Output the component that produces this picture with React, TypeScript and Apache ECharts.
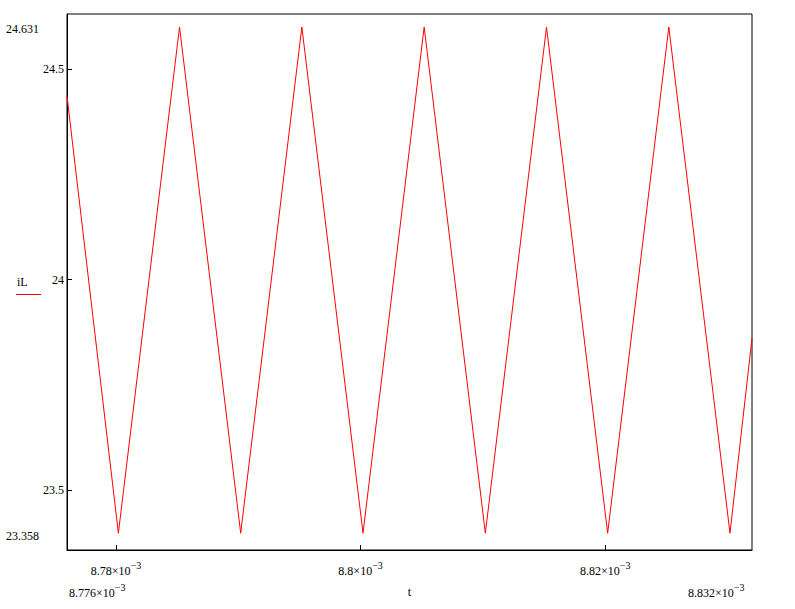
import React, { useEffect, useRef } from "react";
import * as echarts from "echarts";

const tValues = [
  8.776e-3, 8.7802e-3, 8.7852e-3, 8.7902e-3, 8.7952e-3, 8.8002e-3, 8.8052e-3,
  8.8102e-3, 8.8152e-3, 8.8202e-3, 8.8252e-3, 8.8302e-3, 8.832e-3,
];
const iLValues = [
  24.436, 23.398, 24.6, 23.398, 24.6, 23.398, 24.6, 23.398, 24.6, 23.398,
  24.6, 23.398, 23.861,
];
const xMin = 8.776e-3;
const xMax = 8.832e-3;
const yMin = 23.358;
const yMax = 24.631;
const xTicks = [8.78e-3, 8.8e-3, 8.82e-3];
const yTicks = [23.5, 24, 24.5];
const xTickLabels = ["8.78", "8.8", "8.82"];
const xMinLabel = "8.776";
const xMaxLabel = "8.832";
const yMinLabel = "23.358";
const yMaxLabel = "24.631";
const seriesName = "iL";
const xName = "t";

const FONT = "'Liberation Serif', 'Times New Roman', serif";

const richSci = {
  b: { fontFamily: FONT, fontSize: 12, color: "#000" },
  s: { fontFamily: FONT, fontSize: 10, color: "#000", padding: [0, 0, 12, 0] },
};

export default function App() {
  const ref = useRef<HTMLDivElement>(null);
  useEffect(() => {
    if (!ref.current) return;
    const chart = echarts.init(ref.current, null, { renderer: "svg" });
    const data = tValues.map((t, i) => [t, iLValues[i]]);
    chart.setOption({
      animation: false,
      backgroundColor: "#fff",
      grid: {
        left: 67,
        top: 14,
        width: 685,
        height: 536,
        show: true,
        borderColor: "#000",
        borderWidth: 1,
        backgroundColor: "transparent",
      },
      xAxis: {
        type: "value",
        min: xMin,
        max: xMax,
        name: xName,
        nameLocation: "middle",
        nameGap: 36,
        nameTextStyle: { fontFamily: FONT, fontSize: 12, color: "#000" },
        axisLine: { show: true, lineStyle: { color: "#000", width: 1 } },
        splitLine: { show: false },
        axisTick: {
          show: true,
          inside: true,
          length: 5,
          customValues: xTicks,
          lineStyle: { color: "#000" },
        },
        axisLabel: {
          customValues: xTicks,
          margin: 10,
          formatter: (v: number) => {
            const idx = xTicks.findIndex((x) => Math.abs(x - v) < 1e-9);
            const s = idx >= 0 ? xTickLabels[idx] : "";
            return `{b|${s}×10}{s|−3}`;
          },
          rich: richSci,
        },
      },
      yAxis: {
        type: "value",
        min: yMin,
        max: yMax,
        axisLine: { show: true, lineStyle: { color: "#000", width: 1 } },
        splitLine: { show: false },
        axisTick: {
          show: true,
          inside: true,
          length: 5,
          customValues: yTicks,
          lineStyle: { color: "#000" },
        },
        axisLabel: {
          customValues: yTicks,
          margin: 3,
          fontFamily: FONT,
          fontSize: 12,
          color: "#000",
          formatter: (v: number) => String(v),
        },
      },
      series: [
        {
          name: seriesName,
          type: "line",
          data,
          showSymbol: false,
          symbol: "none",
          lineStyle: { color: "#ff0000", width: 1 },
        },
      ],
      graphic: [
        {
          type: "text",
          left: 6,
          top: 23,
          style: { text: yMaxLabel, font: `12px ${FONT}`, fill: "#000" },
        },
        {
          type: "text",
          left: 6,
          top: 530,
          style: { text: yMinLabel, font: `12px ${FONT}`, fill: "#000" },
        },
        {
          type: "text",
          left: 69,
          top: 582,
          style: {
            text: `{b|${xMinLabel}×10}{s|−3}`,
            rich: richSci,
          },
        },
        {
          type: "text",
          left: 688,
          top: 582,
          style: {
            text: `{b|${xMaxLabel}×10}{s|−3}`,
            rich: richSci,
          },
        },
        {
          type: "text",
          left: 17,
          top: 276,
          style: { text: seriesName, font: `12px ${FONT}`, fill: "#000" },
        },
        {
          type: "line",
          shape: { x1: 16, y1: 294.5, x2: 41, y2: 294.5 },
          style: { stroke: "#ff0000", lineWidth: 1 },
        },
      ],
    });
    return () => chart.dispose();
  }, []);
  return <div ref={ref} style={{ width: 795, height: 609, position: "absolute", left: 0, top: 0 }} />;
}
